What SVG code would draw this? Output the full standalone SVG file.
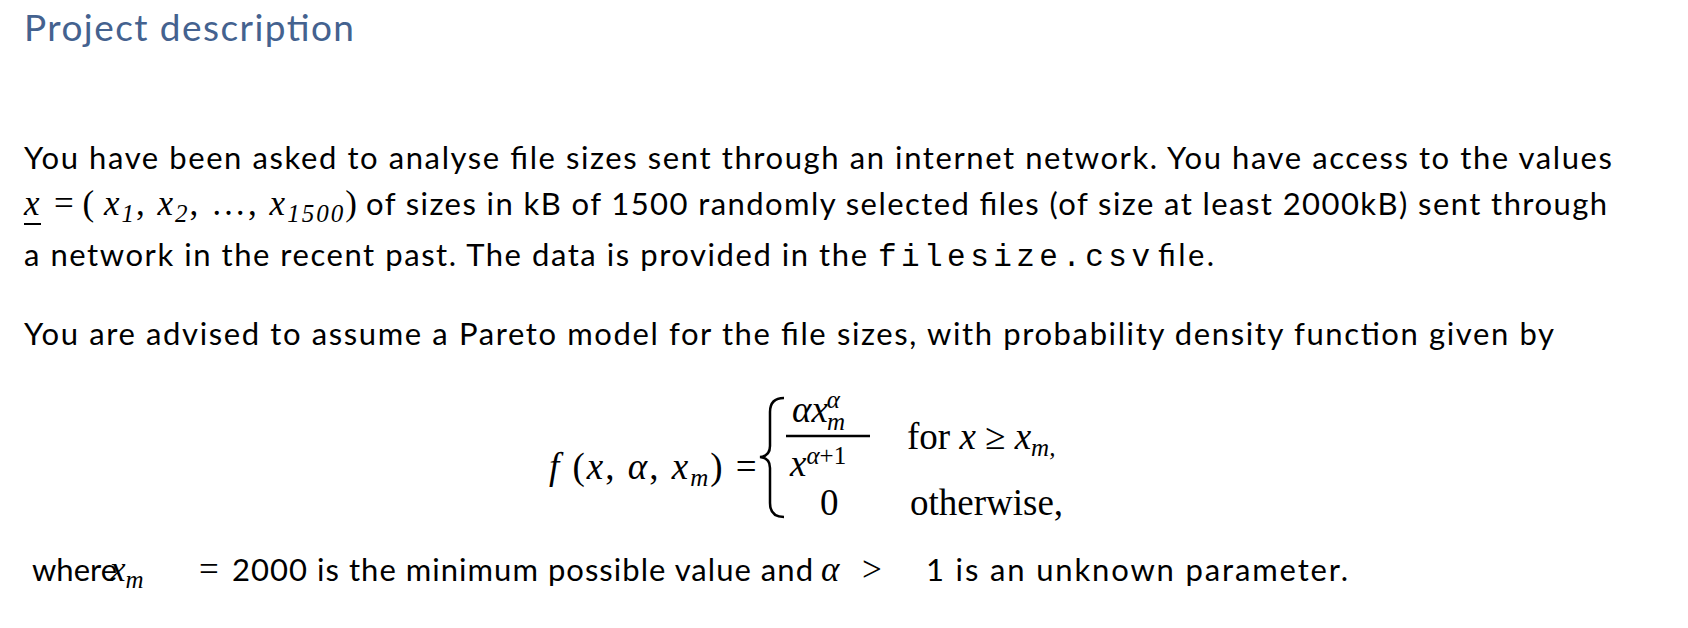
<svg xmlns="http://www.w3.org/2000/svg" width="1688" height="628" viewBox="0 0 1688 628">
<style>
.t{font-family:Lato,"Open Sans",sans-serif;font-size:31px;fill:#000}
.m{font-family:"Liberation Serif",serif;font-style:italic;font-size:35px;fill:#000}
.r{font-family:"Liberation Serif",serif;font-size:35px;fill:#000}
.s{font-family:"Liberation Serif",serif;font-style:italic;font-size:25px}
.f{font-family:"Liberation Serif",serif;font-size:37px;fill:#000}
.c{font-family:"Liberation Mono",monospace;font-size:31px;fill:#000}
</style>
<rect width="1688" height="628" fill="#fff"/>
<text x="24" y="41" style="font-family:Lato,'Open Sans',sans-serif;font-size:37px;fill:#44628f" textLength="330">Project description</text>
<text class="t" x="24" y="169" textLength="1588">You have been asked to analyse file sizes sent through an internet network. You have access to the values</text>
<g id="vec">
<text class="m" x="24" y="215">x</text>
<line x1="24" y1="224" x2="41" y2="224" stroke="#000" stroke-width="2"/>
<text class="r" x="54" y="215">= (</text>
<text class="m" x="104" y="215" letter-spacing="2">x<tspan class="s" dy="7" font-style="normal">1</tspan><tspan dy="-7" font-style="normal">, </tspan>x<tspan class="s" dy="7" font-style="normal">2</tspan><tspan dy="-7" font-style="normal">, …, </tspan>x<tspan class="s" dy="7" font-style="normal">1500</tspan><tspan dy="-7" font-style="normal">)</tspan></text>
</g>
<text class="t" x="366" y="215" textLength="1241">of sizes in kB of 1500 randomly selected files (of size at least 2000kB) sent through</text>
<text class="t" x="24" y="266" textLength="843">a network in the recent past. The data is provided in the</text>
<text class="c" x="878" y="266" textLength="272">filesize.csv</text>
<text class="t" x="1158" y="266" textLength="56">file.</text>
<text class="t" x="24" y="345" textLength="1530">You are advised to assume a Pareto model for the file sizes, with probability density function given by</text>
<g id="formula">
<text class="f" x="549" y="479" font-style="italic" letter-spacing="2">f<tspan font-style="normal"> (</tspan>x<tspan font-style="normal">, </tspan>α<tspan font-style="normal">, </tspan>x<tspan class="s" dy="7">m</tspan><tspan dy="-7" font-style="normal">) =</tspan></text>
<path d="M784 398 Q770 398 770 412 L770 446 Q770 456 760 457 Q770 458 770 468 L770 503 Q770 517 784 517" fill="none" stroke="#000" stroke-width="2.5"/>
<text class="f" x="792" y="422" font-style="italic">αx<tspan class="s" dx="-1" dy="-14">α</tspan><tspan class="s" dx="-13" dy="22">m</tspan></text>
<line x1="786" y1="436" x2="870" y2="436" stroke="#000" stroke-width="2.5"/>
<text class="f" x="790" y="476" font-style="italic">x<tspan class="s" dy="-12">α<tspan font-style="normal">+1</tspan></tspan></text>
<text class="f" x="820" y="515">0</text>
<text class="f" x="907" y="449">for <tspan font-style="italic">x</tspan> ≥ <tspan font-style="italic">x</tspan><tspan class="s" dy="7">m,</tspan></text>
<text class="f" x="910" y="515">otherwise,</text>
</g>
<g id="last">
<text class="t" x="32" y="581">where</text>
<text class="m" x="110" y="581">x<tspan class="s" dy="7">m</tspan></text>
<text class="r" x="199" y="581">=</text>
<text class="t" x="232" y="581" textLength="581">2000 is the minimum possible value and</text>
<text class="m" x="821" y="581">α</text>
<text class="r" x="862" y="581">&gt;</text>
<text class="t" x="926" y="581" textLength="422">1 is an unknown parameter.</text>
</g>
</svg>
